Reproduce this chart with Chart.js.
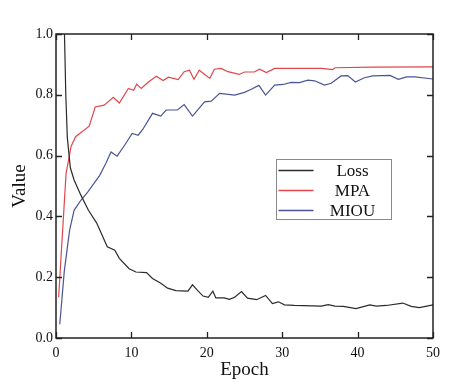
<!DOCTYPE html>
<html>
<head>
<meta charset="utf-8">
<script src="https://cdn.jsdelivr.net/npm/chart.js@4/dist/chart.umd.min.js"></script>
<style>
  html, body { margin: 0; padding: 0; background: #fff; }
  #wrap { width: 474px; height: 382px; }
</style>
</head>
<body>
<div id="wrap"><canvas id="lineChart" width="474" height="382"></canvas></div>
<script>
// values (x = epoch position of each vertex)
var lossEpochs = [0.95, 1.15, 1.3, 1.5, 1.9, 2.4, 3.3, 4.3, 5.4, 6.8, 7.8, 8.4, 9.7, 10.6, 12.0, 12.8, 13.9, 14.8, 15.9, 17.5, 18.1, 18.8, 19.5, 20.2, 20.8, 21.2, 22.3, 23.0, 23.7, 24.6, 25.4, 26.6, 27.8, 28.7, 29.5, 30.3, 31.6, 35.2, 36.1, 37.0, 38.1, 39.8, 41.6, 42.5, 43.8, 46.0, 47.1, 48.2, 50];
var lossValues = [1.2, 0.97, 0.8, 0.66, 0.56, 0.52, 0.47, 0.42, 0.378, 0.30, 0.289, 0.262, 0.228, 0.217, 0.215, 0.196, 0.18, 0.164, 0.156, 0.154, 0.175, 0.156, 0.138, 0.134, 0.154, 0.132, 0.132, 0.127, 0.134, 0.153, 0.131, 0.126, 0.14, 0.113, 0.119, 0.109, 0.107, 0.105, 0.11, 0.105, 0.104, 0.097, 0.109, 0.105, 0.107, 0.115, 0.104, 0.1, 0.109];

var mpaEpochs = [0.35, 1.33, 2.0, 2.6, 4.4, 5.2, 6.4, 7.6, 8.4, 9.6, 10.3, 10.7, 11.3, 12.3, 13.3, 14.2, 14.9, 16.2, 17.0, 17.7, 18.3, 19.0, 20.4, 21.0, 21.9, 22.8, 24.3, 25.0, 26.3, 27.0, 27.9, 29.0, 31.6, 35.2, 36.7, 37.0, 42.0, 50];
var mpaValues = [0.134, 0.54, 0.63, 0.662, 0.697, 0.76, 0.766, 0.792, 0.773, 0.821, 0.815, 0.835, 0.821, 0.843, 0.861, 0.847, 0.858, 0.85, 0.876, 0.881, 0.851, 0.881, 0.854, 0.884, 0.887, 0.876, 0.867, 0.875, 0.875, 0.884, 0.873, 0.887, 0.887, 0.887, 0.883, 0.889, 0.891, 0.892];

var miouEpochs = [0.5, 1.1, 1.8, 2.4, 3.3, 4.2, 5.8, 6.6, 7.3, 8.1, 9.1, 10.1, 10.9, 11.5, 12.8, 13.9, 14.6, 16.1, 17.0, 18.1, 19.7, 20.6, 21.7, 23.7, 25.0, 25.9, 26.9, 27.8, 29.0, 30.1, 31.2, 32.3, 33.4, 34.3, 35.6, 36.5, 37.8, 38.7, 39.7, 40.9, 42.0, 44.3, 45.4, 46.5, 47.6, 50];
var miouValues = [0.045, 0.22, 0.354, 0.42, 0.453, 0.48, 0.535, 0.574, 0.612, 0.598, 0.634, 0.673, 0.667, 0.686, 0.739, 0.73, 0.75, 0.75, 0.768, 0.73, 0.777, 0.779, 0.805, 0.799, 0.808, 0.818, 0.831, 0.799, 0.832, 0.834, 0.841, 0.84, 0.848, 0.846, 0.832, 0.838, 0.862, 0.863, 0.842, 0.856, 0.862, 0.864, 0.851, 0.859, 0.859, 0.852];

var xTicks = [0, 10, 20, 30, 40, 50];
var yTicks = [0.0, 0.2, 0.4, 0.6, 0.8, 1.0];

var seriesNames = ['Loss', 'MPA', 'MIOU'];
var seriesColors = ['#2b2b2b', '#e0474c', '#4a5596'];

function toPoints(xs, ys) {
    return xs.map(function (x, i) { return { x: x, y: ys[i] }; });
}

var serif = '"Liberation Serif", "Times New Roman", serif';

// box, inward ticks and the legend, drawn on top of the chart
var framePlugin = {
    id: 'frame',
    afterDraw: function (chart) {
        var ctx = chart.ctx;
        var a = chart.chartArea;
        var xs = chart.scales.x, ys = chart.scales.y;
        ctx.save();
        ctx.strokeStyle = '#222';
        ctx.lineWidth = 1.5;
        ctx.strokeRect(a.left, a.top, a.right - a.left, a.bottom - a.top);

        ctx.lineWidth = 1.3;
        ctx.beginPath();
        xTicks.forEach(function (v) {
            var px = Math.round(xs.getPixelForValue(v)) + 0.5;
            ctx.moveTo(px, a.bottom); ctx.lineTo(px, a.bottom - 6);
            ctx.moveTo(px, a.top); ctx.lineTo(px, a.top + 6);
        });
        yTicks.forEach(function (v) {
            var py = Math.round(ys.getPixelForValue(v)) + 0.5;
            ctx.moveTo(a.left, py); ctx.lineTo(a.left + 6, py);
            ctx.moveTo(a.right, py); ctx.lineTo(a.right - 6, py);
        });
        ctx.stroke();

        // legend box
        var bx = 276.5, by = 159.5, bw = 115, bh = 60;
        ctx.fillStyle = '#fff';
        ctx.fillRect(bx, by, bw, bh);
        ctx.strokeStyle = '#8a8a8a';
        ctx.lineWidth = 1;
        ctx.strokeRect(bx, by, bw, bh);
        ctx.font = '17px ' + serif;
        ctx.textAlign = 'center';
        ctx.textBaseline = 'middle';
        seriesNames.forEach(function (name, i) {
            var ly = Math.round(by + 10 + i * 20) + 0.5;
            ctx.strokeStyle = seriesColors[i];
            ctx.lineWidth = 1.4;
            ctx.beginPath();
            ctx.moveTo(bx + 2, ly); ctx.lineTo(bx + 37, ly);
            ctx.stroke();
            ctx.fillStyle = '#111';
            ctx.fillText(name, bx + 76, ly + 1);
        });
        ctx.restore();
    }
};

var datasets = [
    { label: seriesNames[0], data: toPoints(lossEpochs, lossValues) },
    { label: seriesNames[1], data: toPoints(mpaEpochs, mpaValues) },
    { label: seriesNames[2], data: toPoints(miouEpochs, miouValues) }
].map(function (d, i) {
    d.borderColor = seriesColors[i];
    d.borderWidth = 1.2;
    d.pointRadius = 0;
    d.tension = 0;
    d.fill = false;
    return d;
});

var ctx = document.getElementById('lineChart');
var lineChart = new Chart(ctx, {
    type: 'line',
    data: { datasets: datasets },
    plugins: [framePlugin],
    options: {
        responsive: false,
        animation: false,
        layout: { padding: { left: 0, right: 41, top: 34, bottom: 0 } },
        plugins: { legend: { display: false }, tooltip: { enabled: false } },
        scales: {
            x: {
                type: 'linear',
                min: 0, max: 50,
                afterBuildTicks: function (scale) {
                    scale.ticks = xTicks.map(function (v) { return { value: v }; });
                },
                afterFit: function (scale) { scale.height = 44; },
                grid: { display: false, drawTicks: false },
                border: { display: false },
                ticks: {
                    color: '#111', padding: 7,
                    font: { family: serif, size: 14 },
                    maxRotation: 0, autoSkip: false
                },
                title: {
                    display: true, text: 'Epoch', color: '#111',
                    font: { family: serif, size: 19 },
                    padding: { top: 0, bottom: 1 }
                }
            },
            y: {
                min: 0, max: 1.0,
                afterBuildTicks: function (scale) {
                    scale.ticks = yTicks.map(function (v) { return { value: v }; });
                },
                afterFit: function (scale) { scale.width = 56; },
                grid: { display: false, drawTicks: false },
                border: { display: false },
                ticks: {
                    color: '#111', padding: 3,
                    font: { family: serif, size: 14 },
                    callback: function (v) { return Number(v).toFixed(1); }
                },
                title: {
                    display: true, text: 'Value', color: '#111',
                    font: { family: serif, size: 19 },
                    padding: { top: 9, bottom: 0 }
                }
            }
        }
    }
});
</script>
</body>
</html>
